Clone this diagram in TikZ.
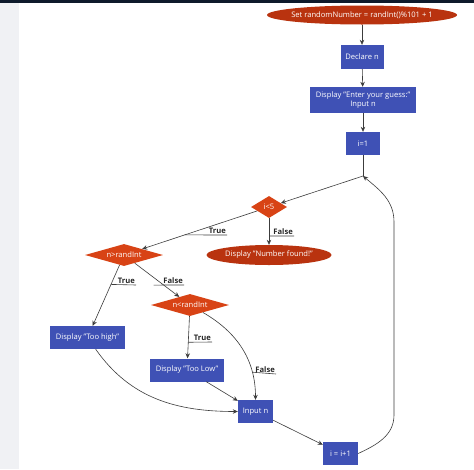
\documentclass[tikz,border=0pt]{standalone}
\usepackage{fontspec}
\setmainfont{Open Sans}
\usepackage{tikz}
\usetikzlibrary{shapes.geometric,arrows.meta}

\definecolor{procblue}{HTML}{3F51B5}
\definecolor{decorange}{HTML}{D84315}
\definecolor{termred}{HTML}{B9330F}
\definecolor{edgegray}{HTML}{3C3C3C}
\definecolor{topbar}{HTML}{0E1A2B}
\definecolor{sidestrip}{HTML}{F0F1F4}

\newcommand{\chartfont}{\fontsize{7.6}{8.8}\selectfont}

\begin{document}
\begin{tikzpicture}[x=1pt, y=1pt,
    proc/.style={rectangle, fill=procblue, text=white, font=\chartfont, minimum width=34pt, minimum height=23pt, inner xsep=3pt, align=center},
    dec/.style={diamond, fill=decorange, text=white, font=\chartfont, inner sep=0pt, minimum height=22pt, aspect=3.5},
    term/.style={ellipse, fill=termred, text=white, font=\chartfont, inner sep=0pt, minimum height=20pt},
    flow/.style={draw=edgegray, line width=0.6pt, -{Stealth[length=5pt, width=4.5pt]}},
    lbl/.style={font=\chartfont\bfseries, text=black!85, inner sep=1pt, anchor=south east},
    uline/.style={draw=edgegray, line width=0.6pt}]
    % Guessing game loop flowchart
    \useasboundingbox (0,0) rectangle (474,-469);
    \fill[white] (0,0) rectangle (474,-469);
    \fill[sidestrip] (0,0) rectangle (19,-469);
    \fill[topbar] (0,0) rectangle (474,-3);

    \node (start) at (362,-15) [term, minimum width=190pt, minimum height=19pt, inner xsep=-5pt] {Set randomNumber = randInt()\%101 + 1};
    \node (decl) at (362,-57) [proc, minimum width=43pt, minimum height=24pt] {Declare n};
    \node (ask) at (363,-100) [proc, minimum width=106pt, minimum height=26pt] {Display "Enter your guess:"\\Input n};
    \node (init) at (363,-143.5) [proc] {i=1};
    \coordinate (join) at (363,-176);

    \node (test) at (269,-207) [dec, minimum width=36pt, aspect=1.6] {i<5};
    \node (found) at (269,-255) [term, minimum width=125pt] {Display "Number found!"};
    \node (gt) at (124,-255) [dec, minimum width=78pt] {n>randInt};
    \node (lt) at (190,-305) [dec, minimum width=78pt] {n<randInt};

    \node (high) at (87.5,-337.5) [proc, minimum width=75pt] {Display "Too high"};
    \node (low) at (187,-370) [proc, minimum width=74pt] {Display "Too Low"};
    \node (inp) at (255.5,-411.5) [proc, minimum width=35pt] {Input n};
    \node (inc) at (340.5,-453.5) [proc, minimum width=35pt] {i = i+1};

    \coordinate (loopbot) at (394,-415);
    \coordinate (looptop) at (394,-222);

    \draw [flow] (start) -- (decl);
    \draw [flow] (decl) -- (ask);
    \draw [flow] (ask) -- (init);
    \draw [uline] (init) -- (join);
    \draw [flow] (join) -- (test);

    \draw [flow] (test) -- coordinate[pos=0.63] (t1) (gt);
    \draw [flow] (test) -- coordinate[pos=0.67] (f1) (found);
    \draw [flow] (gt) -- coordinate[pos=0.32] (t2) (high);
    \draw [flow] (gt) -- coordinate[pos=0.65] (f2) (lt);
    \draw [flow] (lt) -- coordinate[pos=0.62] (t3) (low);
    \draw [flow] (lt) to[out=-30, in=90] coordinate[pos=0.75] (f3) (inp);

    \draw [flow] (high) to[out=-55, in=180] (inp);
    \draw [flow] (low) -- (inp);
    \draw [flow] (inp) -- (inc);
    \draw [flow] (inc.east) to[out=25, in=-90] (loopbot) -- (looptop) to[out=90, in=-40] (join);

    \node (lt1) at (227,-235) [lbl] {True};
    \node (lf1) at (294,-236) [lbl] {False};
    \node (lt2) at (136,-285) [lbl] {True};
    \node (lf2) at (184,-285) [lbl] {False};
    \node (lt3) at (212,-342) [lbl] {True};
    \node (lf3) at (276,-374) [lbl] {False};
    \draw [uline] (t1) -- (lt1.south east);
    \draw [uline] (f1) -- (lf1.south east);
    \draw [uline] (t2) -- (lt2.south east);
    \draw [uline] (f2) ++(-10,0) -- (lf2.south east);
    \draw [uline] (t3) -- (lt3.south east);
    \draw [uline] (f3) -- (lf3.south east);
\end{tikzpicture}
\end{document}
